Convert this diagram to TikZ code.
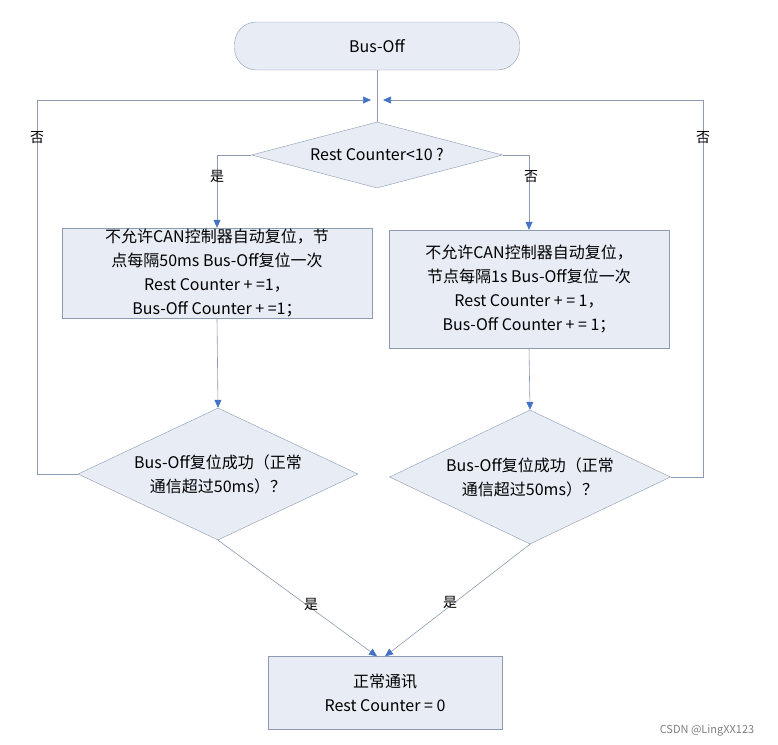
\documentclass[tikz,border=0pt]{standalone}
\usepackage{fontspec}
\setmainfont{Noto Sans CJK SC}
\usetikzlibrary{shapes.geometric,arrows.meta}
\definecolor{fillc}{HTML}{E7ECF5}
\definecolor{linec}{HTML}{8C9BB0}
\definecolor{arrc}{HTML}{4472C4}
\begin{document}
\begin{tikzpicture}[x=1pt,y=-1pt,
  every node/.style={font=\fontsize{16}{24}\selectfont},
  box/.style={draw=linec,fill=fillc,align=center,inner sep=0},
  dia/.style={diamond,draw=linec,fill=fillc,align=center,inner sep=0},
  ln/.style={draw=linec,line width=0.6pt},
  ar/.style={ln,-{Triangle[length=8pt,width=7pt,color=arrc,fill=arrc]}},
  lbl/.style={font=\fontsize{14}{16}\selectfont}]
\useasboundingbox (0,0) rectangle (778,744);
\node[box,rounded corners=22pt,minimum width=285pt,minimum height=48pt] (start) at (377,46) {Bus-Off};
\coordinate (m) at (377,100);
\node[dia,shape aspect=3.8,minimum width=251pt,minimum height=66pt] (d1) at (377,155) {Rest Counter<10 ?};
\node[box,minimum width=310pt,minimum height=90pt] (b1) at (217,273) {不允许CAN控制器自动复位，节\\点每隔50ms Bus-Off复位一次\\Rest Counter + =1，\\Bus-Off Counter + =1；};
\node[box,minimum width=280pt,minimum height=118pt] (b2) at (529,289) {不允许CAN控制器自动复位，\\节点每隔1s Bus-Off复位一次\\Rest Counter + = 1，\\Bus-Off Counter + = 1；};
\node[dia,shape aspect=2.12,minimum width=280pt,minimum height=132pt] (d2) at (218,474) {Bus-Off复位成功（正常\\通信超过50ms）？};
\node[dia,shape aspect=2.1,minimum width=281pt,minimum height=134pt] (d3) at (530,477) {Bus-Off复位成功（正常\\通信超过50ms）？};
\node[box,minimum width=234pt,minimum height=73pt] (end) at (385,693) {正常通讯\\Rest Counter = 0};
\coordinate (lc) at (37,100);
\coordinate (rc) at (703,100);
\coordinate (ml) at (371,100);
\coordinate (mr) at (383,100);
\draw[ln] (start.south) -- (m);
\draw[ln] (m) -- (d1.north);
\draw[ar] (d1.west) -| (b1.north);
\draw[ar] (d1.east) -| (b2.north);
\draw[ar] (b1.south) -- (d2.north);
\draw[ar] (b2.south) -- (d3.north);
\draw[ar] (d2.west) -| (lc) -- (ml);
\draw[ar] (d3.east) -| (rc) -- (mr);
\draw[ar] (d2.south) -- ([xshift=-8pt]end.north);
\draw[ar] (d3.south) -- (end.north);
\node[lbl] (l1) at (217,176) {是};
\node[lbl] (l2) at (531,177) {否};
\node[lbl] (l3) at (37,138) {否};
\node[lbl] (l4) at (703,138) {否};
\node[lbl] (l5) at (311,604) {是};
\node[lbl] (l6) at (450,602) {是};
\node[font=\fontsize{11}{12}\selectfont,text=gray] (wm) at (707,731) {CSDN @LingXX123};
\end{tikzpicture}
\end{document}
